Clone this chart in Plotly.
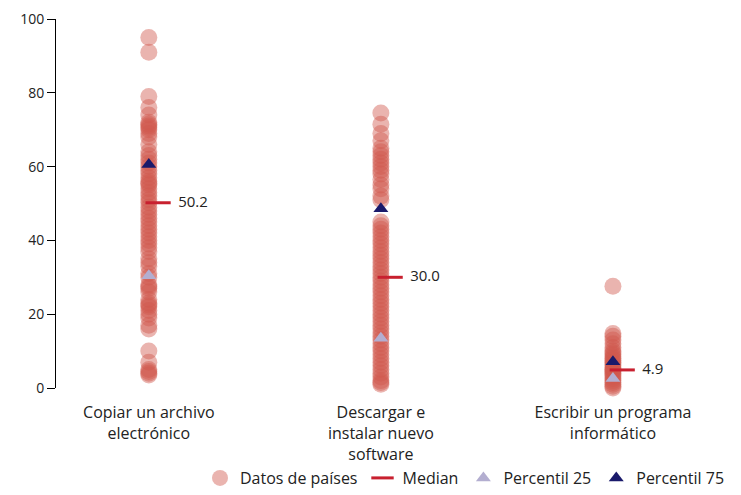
import plotly.graph_objects as go

categorias = ["Copiar un archivo<br>electrónico",
              "Descargar e<br>instalar nuevo<br>software",
              "Escribir un programa<br>informático"]

copiar = [95, 91, 79, 76, 74, 72, 71.5, 71, 70.5, 70, 69, 68, 66, 64, 63, 62, 61, 60,
          59, 58, 57, 56, 55.5, 55, 54, 53, 52, 51, 50.2, 49, 48, 47, 46, 45, 44, 43,
          42, 41, 40, 39, 38, 37, 35, 34, 33, 31, 30, 28, 27.5, 27, 26, 24, 23, 22.5,
          22, 21, 20, 19, 17, 16, 10, 7, 5, 4.5, 4, 3.5]
descargar = [74.5, 71.5, 69, 67, 65, 64, 63, 62, 61, 60, 59, 58, 56.5, 55, 54, 52, 51,
             45, 44, 43, 42, 41, 40, 39, 38, 37, 36, 35, 34, 33, 32, 31, 30, 29, 28,
             27, 26, 25, 24, 23, 22, 21, 20, 19, 18, 17, 16, 15, 14, 13, 12, 11, 10,
             9, 8, 7, 6, 5, 4, 3, 2, 1.5, 1]
escribir = [27.6, 14.8, 14, 13, 12, 11, 10, 9.5, 9, 8.5, 8, 7.5, 7, 6.5, 6, 5.5, 5,
            4.9, 4.5, 4, 3.5, 3, 2.5, 2, 1.5, 1, 0.5, 0]
paises = [copiar, descargar, escribir]

mediana = [50.2, 30.0, 4.9]
percentil25 = [30.4, 13.5, 2.6]
percentil75 = [60.6, 48.6, 7.1]

font = "Open Sans, Lato, sans-serif"
fig = go.Figure()

# puntos de paises
xs, ys = [], []
for i, vals in enumerate(paises):
    xs += [i] * len(vals)
    ys += vals
fig.add_trace(go.Scatter(x=xs, y=ys, mode="markers", name="Datos de países",
                         marker=dict(size=17, color="rgb(208,88,78)", opacity=0.45),
                         cliponaxis=False))

pos = list(range(len(categorias)))
desp = 0.04  # la mediana va a la derecha del centro
fig.add_trace(go.Scatter(x=[p + desp for p in pos], y=mediana, mode="markers+text",
                         name="Median",
                         marker=dict(symbol="line-ew", size=18,
                                     line=dict(width=3, color="#c8202f")),
                         text=[f"  {m:.1f}" for m in mediana],
                         textposition="middle right",
                         textfont=dict(size=15, color="#222"),
                         cliponaxis=False))
fig.add_trace(go.Scatter(x=pos, y=percentil25, mode="markers", name="Percentil 25",
                         marker=dict(symbol="triangle-up", size=13, color="#b3aed0"),
                         cliponaxis=False))
fig.add_trace(go.Scatter(x=pos, y=percentil75, mode="markers", name="Percentil 75",
                         marker=dict(symbol="triangle-up", size=13, color="#1a1a6b"),
                         cliponaxis=False))

# la pagina tiene 8px de margen en el body
fig.update_layout(
    width=733, height=487,
    margin=dict(l=48, r=19, t=11, b=107),
    plot_bgcolor="white", paper_bgcolor="white",
    font=dict(family=font, size=15, color="#222"),
    showlegend=True,
    legend=dict(orientation="h", x=0.985, xanchor="right", xref="container",
                y=0.0, yanchor="bottom", yref="container",
                font=dict(size=16)),
    xaxis=dict(range=[-0.4, 2.47], tickvals=pos, ticktext=categorias,
               showgrid=False, zeroline=False, showline=False, automargin=False,
               ticks="outside", ticklen=10, tickcolor="rgba(0,0,0,0)",
               tickfont=dict(size=16)),
    yaxis=dict(range=[0, 100], dtick=20, showgrid=False, zeroline=False,
               showline=True, linecolor="black", linewidth=1, automargin=False,
               ticks="outside", ticklen=8, tickcolor="black",
               tickfont=dict(size=14), ticklabeloverflow="allow"),
)

fig.write_html("out.html")
